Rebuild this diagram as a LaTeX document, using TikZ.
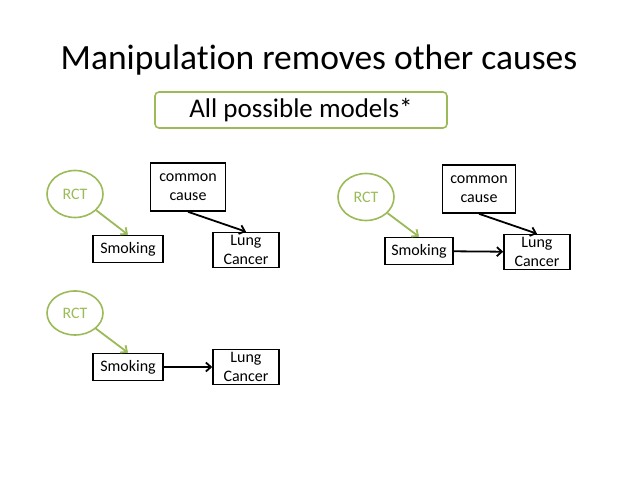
\documentclass[tikz,border=0pt]{standalone}
\usepackage{fontspec}
\setmainfont[Ligatures=NoCommon]{Carlito}
\usetikzlibrary{arrows.meta,shapes.geometric}
\definecolor{ofgreen}{RGB}{155,187,89}
\tikzset{
  var/.style={draw,line width=1.6pt,fill=white,align=center,inner sep=1pt,
    font=\fontsize{16}{19}\selectfont},
  rct/.style={draw=ofgreen,text=ofgreen,ellipse,line width=1.6pt,
    minimum width=56pt,minimum height=47pt,inner sep=0pt,
    font=\fontsize{16}{19}\selectfont},
  cause/.style={-{Straight Barb[length=5pt,width=9pt]},line width=1.8pt},
  gcause/.style={cause,draw=ofgreen}
}
\begin{document}
\begin{tikzpicture}[x=1pt,y=-1pt]
    \useasboundingbox (0,0) rectangle (638,478);

    % Titel
    \node (title) at (319,60) {\fontsize{35.5}{40}\selectfont Manipulation removes other causes};
    \node[draw=ofgreen,line width=1.6pt,rounded corners=4pt,minimum width=292pt,
      minimum height=36pt,inner sep=0pt] (models) at (301,110)
      {\fontsize{27}{30}\selectfont All possible models*};

    % Modell 1
    \node[rct] (rctA) at (75,194) {RCT};
    \node[var,minimum width=75pt,minimum height=48pt] (commonA) at (188,187) {common\\cause};
    \node[var,minimum width=70pt,minimum height=27pt] (smokingA) at (128,249) {Smoking};
    \node[var,minimum width=66pt,minimum height=35pt] (lungA) at (246,250) {Lung\\Cancer};

    \draw[gcause] (rctA) -- (smokingA.north);
    \draw[cause] (commonA.south) -- (lungA.north);

    % Modell 2
    \node[rct] (rctB) at (366,197) {RCT};
    \node[var,minimum width=73pt,minimum height=48pt] (commonB) at (479,189) {common\\cause};
    \node[var,minimum width=68pt,minimum height=27pt] (smokingB) at (419,251) {Smoking};
    \node[var,minimum width=66pt,minimum height=35pt] (lungB) at (537,252) {Lung\\Cancer};

    \draw[gcause] (rctB) -- (smokingB.north);
    \draw[cause] (commonB.south) -- (lungB.north);
    \draw[cause] (smokingB) -- (lungB);

    % Modell 3
    \node[rct,minimum height=44pt] (rctC) at (75,313) {RCT};
    \node[var,minimum width=70pt,minimum height=27pt] (smokingC) at (128,367) {Smoking};
    \node[var,minimum width=66pt,minimum height=35pt] (lungC) at (246,367) {Lung\\Cancer};

    \draw[gcause] (rctC) -- (smokingC.north);
    \draw[cause] (smokingC) -- (lungC);
\end{tikzpicture}
\end{document}
